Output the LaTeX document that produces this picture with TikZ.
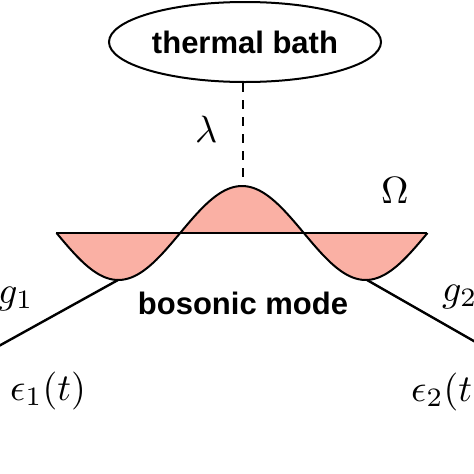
\documentclass[tikz,border=0pt]{standalone}
\usepackage{graphicx}
\usepackage{fontspec}
\setsansfont{Liberation Sans}
\usetikzlibrary{shapes.geometric}
\definecolor{wavefill}{RGB}{250,176,164}
\newcommand{\bigmath}[1]{\scalebox{3.8}{$#1$}}
\tikzset{
  sanslabel/.style={font=\sffamily\bfseries\fontsize{31}{38}\selectfont, inner sep=0pt},
  mathlabel/.style={inner sep=0pt},
  bathbox/.style={ellipse, draw, line width=2pt, minimum width=272pt, minimum height=80pt, inner sep=0pt},
  coupling/.style={line width=2.4pt},
  wavepen/.style={line width=2pt},
}
\begin{document}
\begin{tikzpicture}[x=1pt, y=-1pt]
\useasboundingbox (0,0) rectangle (474,474);
% wave fill
\fill[wavefill] plot[domain=-270:270, samples=120] ({242+\x*0.687}, {233-47*cos(\x)}) -- cycle;
\draw[wavepen] (56,233) -- (427,233);
\draw[wavepen, line join=round] plot[domain=-270:270, samples=120] ({242+\x*0.687}, {233-47*cos(\x)});
\coordinate (peak) at (243,186);
\coordinate (troughL) at (118,280);
\coordinate (troughR) at (367,280);
\coordinate (endL) at (-12,352);
\coordinate (endR) at (486,348);
% bath
\node[bathbox, sanslabel] (bath) at (245,42) {thermal bath};
\draw[coupling, dash pattern=on 9pt off 8pt] (bath.south -| peak) -- (peak);
% couplings
\draw[coupling] (troughL) -- (endL);
\draw[coupling] (troughR) -- (endR);
% labels
\node[sanslabel, anchor=base] (mode) at (243,314) {bosonic mode};
\node[mathlabel, anchor=base west] (lam) at (195,142) {\bigmath{\lambda}};
\node[mathlabel, anchor=base west] (om) at (381,203) {\bigmath{\Omega}};
\node[mathlabel, anchor=base west] (g1) at (-2,303) {\bigmath{g_1}};
\node[mathlabel, anchor=base west] (g2) at (442,301) {\bigmath{g_2}};
\node[mathlabel, anchor=base west] (e1) at (10,400) {\bigmath{\epsilon_1(t)}};
\node[mathlabel, anchor=base west] (e2) at (411,401) {\bigmath{\epsilon_2(t)}};
\end{tikzpicture}
\end{document}
